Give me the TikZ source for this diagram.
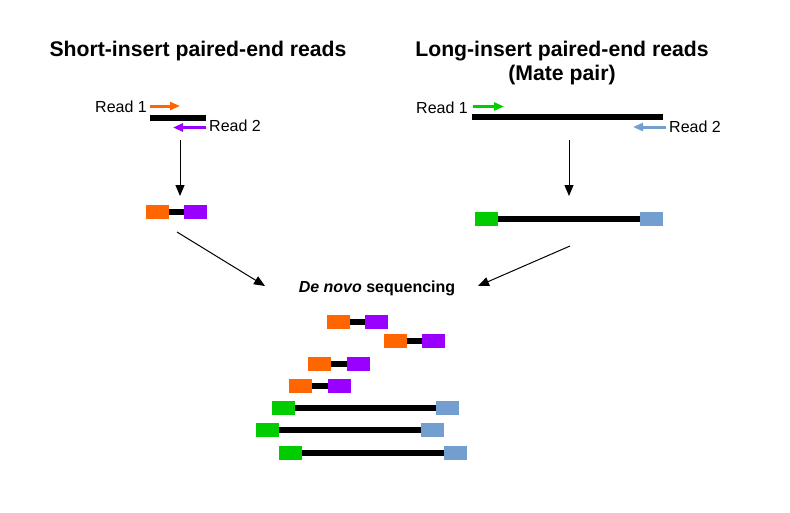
\documentclass[tikz,border=0pt]{standalone}
\usepackage{fontspec}
\setmainfont{Liberation Sans}
\usetikzlibrary{arrows.meta,positioning}
\definecolor{readorange}{HTML}{FF6600}
\definecolor{readpurple}{HTML}{9900FF}
\definecolor{readgreen}{HTML}{00CC00}
\definecolor{readblue}{HTML}{729FCF}

\begin{document}
\begin{tikzpicture}[x=1pt, y=-1pt,
    title/.style={font=\bfseries\fontsize{21.2}{24}\selectfont, align=center, inner sep=0pt},
    readlabel/.style={font=\fontsize{16}{18}\selectfont, inner sep=0pt},
    box/.style={minimum width=23pt, minimum height=14pt, inner sep=0pt},
    insert/.style={line width=6pt},
    readarrow/.style={line width=3pt, -{Triangle[length=10pt, width=8pt]}},
    flow/.style={line width=1pt, -{Triangle[length=11pt, width=9pt]}}]
  \useasboundingbox (0,0) rectangle (790,512);

  % titles
  \node (short_title) [title, anchor=base] at (198,56) {Short-insert paired-end reads};
  \node (long_title) [title, anchor=north] at (562,41) {Long-insert paired-end reads\\(Mate pair)};

  % short insert reads
  \node (s_read1) [readlabel, anchor=base east] at (147,112) {Read 1};
  \node (s_read2) [readlabel, anchor=base west] at (209,131) {Read 2};
  \coordinate (s_fwd_start) at (150,106);
  \coordinate (s_fwd_end) at (180,106);
  \coordinate (s_bar_left) at (150,118);
  \coordinate (s_bar_right) at (206,118);
  \coordinate (s_rev_start) at (206,127.5);
  \coordinate (s_rev_end) at (173,127.5);
  \draw [readarrow, readorange] (s_fwd_start) -- (s_fwd_end);
  \draw [line width=5.5pt] (s_bar_left) -- (s_bar_right);
  \draw [readarrow, readpurple] (s_rev_start) -- (s_rev_end);

  % long insert reads
  \node (l_read1) [readlabel, anchor=base east] at (468,113) {Read 1};
  \node (l_read2) [readlabel, anchor=base west] at (669,132) {Read 2};
  \coordinate (l_fwd_start) at (473,106.5);
  \coordinate (l_fwd_end) at (504,106.5);
  \coordinate (l_bar_left) at (472,117);
  \coordinate (l_bar_right) at (663,117);
  \coordinate (l_rev_start) at (666,127);
  \coordinate (l_rev_end) at (633,127);
  \draw [readarrow, readgreen] (l_fwd_start) -- (l_fwd_end);
  \draw [line width=6pt] (l_bar_left) -- (l_bar_right);
  \draw [readarrow, readblue] (l_rev_start) -- (l_rev_end);

  % pairs
  \node (s_left) [box, fill=readorange] at (157,212) {};
  \node (s_right) [box, fill=readpurple] at (195.5,212) {};
  \draw [insert] (s_left.east) -- (s_right.west);
  \node (l_left) [box, fill=readgreen] at (486.5,218.5) {};
  \node (l_right) [box, fill=readblue] at (651.5,218.5) {};
  \draw [insert] (l_left.east) -- (l_right.west);

  % arrows
  \coordinate (s_down_top) at (180,140);
  \coordinate (s_down_bot) at (180,196);
  \coordinate (l_down_top) at (569,140);
  \coordinate (l_down_bot) at (569,196);
  \draw [flow] (s_down_top) -- (s_down_bot);
  \draw [flow] (l_down_top) -- (l_down_bot);

  \node (denovo) [font=\bfseries\fontsize{16}{19}\selectfont, inner sep=0pt, anchor=base] at (377,292) {\textit{De novo} sequencing};
  \coordinate (s_diag_top) at (177,232);
  \coordinate (s_diag_bot) at (265,286);
  \coordinate (l_diag_top) at (570,246);
  \coordinate (l_diag_bot) at (478,286);
  \draw [flow] (s_diag_top) -- (s_diag_bot);
  \draw [flow] (l_diag_top) -- (l_diag_bot);

  % assembled reads
  \foreach \a/\b/\y/\cl/\cr [count=\i] in {
      338.5/376.5/322/readorange/readpurple,
      395/433.5/341/readorange/readpurple,
      319.5/358.5/364/readorange/readpurple,
      300.5/339.5/386/readorange/readpurple,
      283.5/447.5/408/readgreen/readblue,
      267.5/432.5/430/readgreen/readblue,
      290.5/455.5/453/readgreen/readblue} {
    \node (row\i-l) [box, fill=\cl] at (\a,\y) {};
    \node (row\i-r) [box, fill=\cr] at (\b,\y) {};
    \draw [insert] (row\i-l.east) -- (row\i-r.west);
  }
\end{tikzpicture}
\end{document}
